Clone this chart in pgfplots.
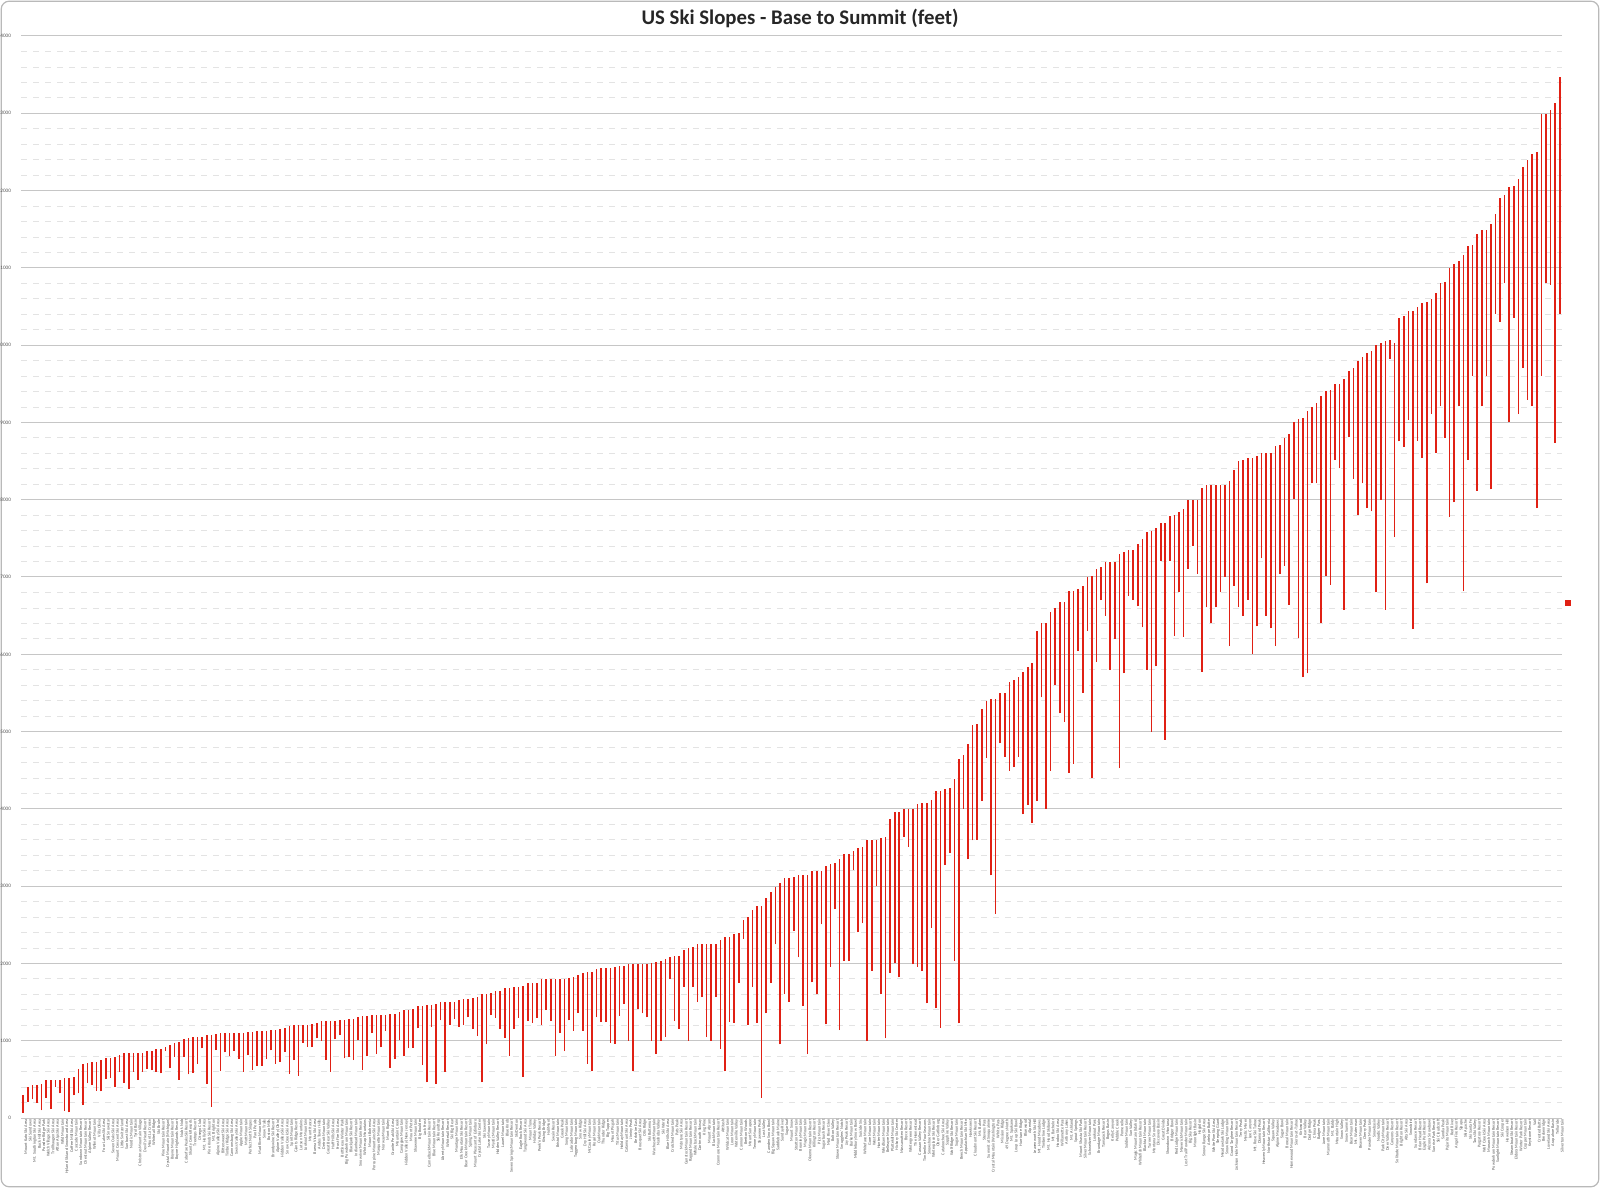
\documentclass[border=0pt]{standalone}
\usepackage{fontspec}
\setmainfont{Carlito}
\usepackage{pgfplots}
\usepackage{pgfplotstable}
\pgfplotsset{compat=1.18}
\definecolor{barred}{RGB}{224,32,20}
\definecolor{labgray}{RGB}{89,89,89}
\pgfplotstableread{
i base top
1 69 303
2 208 407
3 242 433
4 199 433
5 100 442
6 260 489
7 121 494
8 398 494
9 320 489
10 95 520
11 74 520
12 294 533
13 320 628
14 165 693
15 450 714
16 424 719
17 351 719
18 346 745
19 502 779
20 524 779
21 398 792
22 598 814
23 450 844
24 381 844
25 598 844
26 498 844
27 598 844
28 632 866
29 619 866
30 598 892
31 576 892
32 866 922
33 641 944
34 792 966
35 494 987
36 792 1022
37 563 1031
38 584 1052
39 701 1052
40 900 1052
41 446 1069
42 143 1069
43 879 1082
44 606 1100
45 849 1100
46 797 1100
47 870 1100
48 762 1100
49 598 1104
50 814 1108
51 620 1117
52 676 1125
53 676 1125
54 762 1125
55 875 1134
56 702 1138
57 728 1147
58 857 1160
59 572 1186
60 749 1199
61 546 1199
62 974 1199
63 922 1199
64 918 1220
65 1030 1225
66 1000 1251
67 749 1251
68 598 1251
69 1017 1259
70 1073 1268
71 771 1268
72 788 1276
73 749 1285
74 1009 1302
75 620 1315
76 797 1315
77 1099 1328
78 831 1328
79 914 1333
80 1125 1333
81 650 1350
82 762 1350
83 1004 1372
84 797 1393
85 901 1397
86 909 1406
87 1160 1454
88 685 1454
89 460 1467
90 1181 1467
91 438 1471
92 1264 1497
93 598 1497
94 1203 1497
95 1281 1501
96 1181 1523
97 1203 1536
98 1302 1540
99 1151 1553
100 1060 1562
101 460 1600
102 952 1600
103 1332 1612
104 1297 1642
105 1151 1642
106 1039 1685
107 802 1685
108 1151 1698
109 1297 1698
110 535 1711
111 1254 1741
112 1233 1741
113 1297 1741
114 1203 1793
115 1397 1793
116 1254 1793
117 802 1793
118 1103 1793
119 866 1793
120 1263 1806
121 1129 1819
122 1362 1849
123 1129 1871
124 703 1892
125 603 1892
126 1302 1931
127 1241 1935
128 1241 1935
129 974 1935
130 961 1953
131 1323 1961
132 1474 1961
133 1000 1996
134 603 1996
135 1405 1996
136 1353 1996
137 1302 1996
138 1000 2000
139 828 2021
140 1000 2026
141 1047 2060
142 1797 2082
143 1254 2095
144 1151 2095
145 1698 2168
146 1000 2194
147 1698 2207
148 1500 2246
149 1565 2246
150 1047 2246
151 1000 2246
152 1565 2254
153 897 2297
154 603 2345
155 1246 2345
156 1233 2375
157 1750 2396
158 2315 2560
159 1203 2595
160 1698 2690
161 1233 2741
162 263 2746
163 1353 2849
164 1750 2918
165 2246 2991
166 953 3047
167 1599 3099
168 1504 3099
169 2418 3112
170 2078 3142
171 1448 3142
172 828 3142
173 1754 3198
174 1599 3198
175 2504 3198
176 1211 3263
177 1957 3284
178 2702 3302
179 1138 3345
180 2030 3422
181 2030 3422
182 3207 3452
183 2401 3495
184 2517 3508
185 996 3595
186 1905 3595
187 3004 3595
188 1599 3629
189 1030 3638
190 1879 3875
191 2000 3961
192 1819 3961
193 3638 3995
194 3508 3995
195 1987 3995
196 1957 4060
197 1901 4077
198 1483 4077
199 2461 4120
200 1418 4233
201 1168 4233
202 3271 4263
203 3431 4272
204 2034 4392
205 1224 4651
206 4000 4698
207 3345 4840
208 3591 5086
209 3603 5095
210 4099 5293
211 4659 5392
212 3138 5422
213 2642 5422
214 4849 5496
215 4677 5500
216 4496 5646
217 4539 5672
218 4668 5702
219 3927 5775
220 4056 5840
221 3815 5888
222 4099 6297
223 5444 6401
224 4000 6401
225 4496 6543
226 5603 6599
227 5237 6672
228 5121 6681
229 4465 6814
230 4582 6819
231 6047 6845
232 5500 6888
233 6306 7004
234 4401 7008
235 5905 7103
236 6702 7133
237 6500 7198
238 5802 7198
239 6198 7198
240 4526 7297
241 5754 7327
242 6758 7349
243 6707 7349
244 6620 7426
245 6349 7491
246 5802 7586
247 5000 7599
248 5845 7633
249 7211 7698
250 4896 7698
251 7211 7793
252 6241 7802
253 6802 7836
254 6229 7879
255 7104 8000
256 7405 8000
257 7039 8000
258 5776 8147
259 6608 8194
260 6401 8194
261 6608 8194
262 6802 8194
263 7004 8194
264 6104 8246
265 6888 8384
266 6608 8496
267 6500 8517
268 6707 8539
269 6004 8539
270 6362 8560
271 7241 8599
272 6500 8599
273 6336 8599
274 6104 8698
275 7039 8707
276 7147 8797
277 6642 8849
278 8009 9000
279 6207 9043
280 5703 9056
281 5754 9142
282 8211 9203
283 8211 9250
284 6405 9345
285 7017 9409
286 6901 9418
287 8513 9496
288 8405 9496
289 6578 9560
290 8806 9659
291 8267 9698
292 7806 9797
293 8211 9849
294 7892 9892
295 7849 9918
296 6802 10000
297 8000 10034
298 6573 10059
299 9823 10069
300 7517 10030
301 8754 10350
302 8685 10379
303 9035 10438
304 6325 10448
305 8764 10498
306 8542 10547
307 6916 10562
308 9108 10596
309 8606 10670
310 9207 10798
311 8803 10823
312 7778 10995
313 7966 11049
314 9207 11094
315 6818 11163
316 8517 11286
317 9601 11301
318 8113 11434
319 9207 11488
320 9601 11488
321 8133 11562
322 10404 11695
323 10301 11902
324 10798 11946
325 9010 12049
326 10355 12064
327 9108 12153
328 9709 12300
329 9291 12394
330 9217 12473
331 7892 12498
332 9601 12990
333 10798 12990
334 10783 13039
335 8739 13138
336 10404 13468
}\skidata

\begin{document}
\begin{tikzpicture}
\useasboundingbox (0pt,0pt) rectangle (800pt,594pt);
\draw[gray!55, line width=0.6pt, rounded corners=4pt] (0.6pt,0.6pt) rectangle (799.4pt,593.4pt);
\node[font=\fontsize{10.4}{12}\selectfont\bfseries, text=black!85] at (400pt,585pt) {US Ski Slopes - Base to Summit (feet)};
\begin{axis}[
  at={(10.5pt,35pt)}, anchor=south west,
  scale only axis, width=770.5pt, height=541pt,
  xmin=0.5, xmax=336.5, ymin=0, ymax=14000,
  ytick={0,1000,...,14000},
  scaled y ticks=false,
  minor y tick num=4,
  ymajorgrids, yminorgrids,
  major grid style={gray!45, line width=0.5pt},
  minor grid style={gray!22, dashed, line width=0.4pt},
  axis line style={draw=none},
  tick style={draw=none},
  /pgf/number format/1000 sep={},
  /pgf/number format/assume math mode=true,
  yticklabel style={font=\fontsize{2.6}{3}\selectfont, text=labgray, xshift=-1.5pt},
  xtick={1,...,336},
  xticklabel style={rotate=90, anchor=east, font=\fontsize{2.1}{2.5}\selectfont, text=labgray, inner sep=0.5pt, yshift=-1.2pt},
  xticklabels={Mount Kato Ski Area,Ski Sundown,Mt. Southington Ski Area,Buck Hill Ski Area,Powder Ridge Park,Welch Village Ski Area,Trollhaugen Ski Area,Afton Alps Ski Area,Wild Mountain,Hyland Ski and Snowboard Area,
Coffee Mill Ski Area,Cascade Mountain,Sundown Mountain Resort,Chestnut Mountain Resort,Alpine Valley Resort,Wilmot Mountain,Villa Olivia,Four Lakes Ski Area,Ski Snowstar,Seven Oaks Ski Area,
Mount Crescent Ski Area,Little Switzerland,Sunburst Ski Area,Nordic Mountain,Tyrol Basin,Christmas Mountain Village,Devil's Head Resort,Mount La Crosse,Whitetail Ridge,Ski Brule,
Pine Mountain Resort,Crystal Mountain (Michigan),Boyne Mountain Resort,Boyne Highlands Resort,Nub's Nob,Caberfae Peaks Ski Resort,Shanty Creek Resorts,Treetops Resort,Otsego Club,Mt. Holly Ski Area,
Pine Knob Ski Resort,Mt. Brighton,Alpine Valley Ski Area,Bittersweet Ski Area,Timber Ridge Ski Area,Cannonsburg Ski Area,Swiss Valley Ski Area,Apple Mountain,Mott Mountain,Perfect North Slopes,
Paoli Peaks,Mad River Mountain,Snow Trails,Boston Mills,Brandywine Ski Resort,Alpine Valley (Ohio),Hidden Valley Ski Area,Snow Creek Ski Area,Spirit Mountain,Giants Ridge Resort,
Lutsen Mountains,Lookout Mountain,Mount Itasca,Buena Vista Ski Area,Andes Tower Hills,Detroit Mountain,Great Bear Ski Valley,Huff Hills Ski Area,Frost Fire Ski Area,Bottineau Winter Park,
Big Powderhorn Mountain,Blackjack Ski Resort,Indianhead Mountain,Snowriver Mountain Resort,Whitecap Mountains,Mount Bohemia,Porcupine Mountains Ski Area,Marquette Mountain,Norway Mountain,Mont Ripley,
Granite Peak Ski Area,Mountain Creek,Campgaw Mountain,Hidden Valley (New Jersey),Mount Peter,Shawnee Mountain,Big Boulder,Jack Frost,Camelback Mountain Resort,Blue Mountain Resort,
Ski Roundtop,Liberty Mountain Resort,Whitetail Resort,Ski Big Bear,Montage Mountain,Elk Mountain Ski Resort,Bear Creek Mountain Resort,Spring Mountain,Mount Pleasant of Edinboro,Crystal Lake Ski Center,
Ski Sawmill,Tussey Mountain,Mystic Mountain,Hidden Valley Resort,Laurel Mountain,Blue Knob,Seven Springs Mountain Resort,Ski Denton,Eagle Rock Resort,Tanglwood Ski Area,
Mount Tone,Holiday Valley,Peek'n Peak Resort,Kissing Bridge,HoliMont,Swain Resort,Bristol Mountain,Greek Peak,Song Mountain,Labrador Mountain,
Toggenburg Mountain,Snow Ridge,Dry Hill Ski Area,McCauley Mountain,Royal Mountain,Oak Mountain,Thunder Ridge,Big Tupper,Mount Pisgah,Titus Mountain,
Holiday Mountain,Catamount Ski Area,Jiminy Peak,Berkshire East,Bousquet Ski Area,Otis Ridge,Ski Butternut,Wachusett Mountain,Nashoba Valley,Ski Ward,
Blue Hills Ski Area,Crotched Mountain,Pats Peak,McIntyre Ski Area,Gunstock Mountain Resort,Ragged Mountain Resort,Whaleback Mountain,Dartmouth Skiway,King Pine,Mount Abram,
Black Mountain,Cranmore Mountain Resort,Attitash,Wildcat Mountain,Loon Mountain,Waterville Valley,Cannon Mountain,Bretton Woods,Mount Sunapee,Tenney Mountain,
Shawnee Peak,Lost Valley,Camden Snow Bowl,Big Squaw Mountain,Saddleback Maine,Sunday River,Sugarloaf,Mount Snow,Stratton Mountain,Bromley Mountain,
Magic Mountain,Okemo Mountain Resort,Killington Resort,Pico Mountain,Sugarbush Resort,Mad River Glen,Bolton Valley,Stowe Mountain Resort,Smugglers' Notch,Jay Peak Resort,
Burke Mountain,Middlebury Snow Bowl,Suicide Six,Whiteface Mountain,Gore Mountain,West Mountain,Hunter Mountain,Windham Mountain,Belleayre Mountain,Plattekill Mountain,
Hickory Ski Center,Massanutten Resort,Bryce Resort,Wintergreen Resort,The Homestead,Canaan Valley Resort,Timberline Four Seasons,Snowshoe Mountain,Winterplace Ski Resort,Ober Gatlinburg,
Cataloochee Ski Area,Sapphire Valley,Wolf Ridge Ski Resort,Sugar Mountain,Beech Mountain Resort,Appalachian Ski Mtn,Hawksnest,Cloudmont Ski Resort,Mt. Baker,Stevens Pass,
Summit at Snoqualmie,Crystal Mountain (Washington),White Pass,Mission Ridge,49 Degrees North,Mt. Spokane,Loup Loup Ski Bowl,Hurricane Ridge,Bluewood,Alpental,
Leavenworth Ski Hill,Mt. Hood Meadows,Timberline Lodge,Mt. Hood Skibowl,Mt. Bachelor,Hoodoo Ski Area,Willamette Pass,Anthony Lakes,Mt. Ashland,Spout Springs,
Mount Shasta Ski Park,Silver Mountain Resort,Schweitzer Mountain,Lookout Pass,Brundage Mountain,Tamarack Resort,Bogus Basin,Kelly Canyon,Pebble Creek,Pomerelle,
Soldier Mountain,Sun Valley,Magic Mountain (Idaho),Whitefish Mountain Resort,Blacktail Mountain,Turner Mountain,Montana Snowbowl,Discovery Basin,Great Divide,Showdown Montana,
Bridger Bowl,Red Lodge Mountain,Maverick Mountain,Lost Trail Powder Mountain,Big Sky Resort,Moonlight Basin,Hogadon,Snowy Range Ski Area,Antelope Butte,White Pine Ski Area,
Sleeping Giant,Meadowlark Ski Lodge,Snow King Mountain,Grand Targhee Resort,Jackson Hole Mountain Resort,Terry Peak,Mystic Miner,Lee Canyon,Mt. Rose Ski Tahoe,Diamond Peak,
Heavenly Mountain Resort,Northstar California,Squaw Valley,Alpine Meadows,Sugar Bowl,Boreal Mountain,Homewood Mountain Resort,Sierra-at-Tahoe,Kirkwood,Bear Valley,
Dodge Ridge,China Peak,Badger Pass,June Mountain,Mammoth Mountain,Mt. Baldy,Mountain High,Snow Valley,Snow Summit,Bear Mountain,
Mt. Waterman,Beaver Mountain,Cherry Peak,Powder Mountain,Snowbasin,Nordic Valley,Park City Mountain,Deer Valley Resort,Canyons Resort,Solitude Mountain Resort,
Brighton Resort,Alta Ski Area,Snowbird,Sundance Resort,Brian Head Resort,Eagle Point Resort,Arizona Snowbowl,Sunrise Park Resort,Ski Cloudcroft,Sandia Peak,
Pajarito Mountain,Red River,Angel Fire Resort,Sipapu,Ski Apache,Ski Santa Fe,Taos Ski Valley,Purgatory Resort,Wolf Creek Ski Area,Monarch Mountain,
Powderhorn Mountain Resort,Sunlight Mountain Resort,Ski Cooper,Howelsen Hill,Steamboat Ski Resort,Eldora Mountain Resort,Winter Park Resort,Copper Mountain,Keystone Resort,Vail,
Crested Butte,Breckenridge,Loveland Ski Area,Arapahoe Basin,Telluride,Silverton Mountain},
  legend style={at={(axis description cs:1.0065,0.476)}, anchor=center, draw=none, fill=none, inner sep=0pt, outer sep=0pt, font=\fontsize{2}{2.4}\selectfont},
]
\addplot[barred, line width=0.8pt, no markers,
  quiver={u=0, v=\thisrow{top}-\thisrow{base}},
  legend image code/.code={\fill[barred] (-1.2pt,-1.2pt) rectangle (1.2pt,1.2pt);}]
  table[x=i, y=base] {\skidata};
\addlegendentry{}
\end{axis}
\end{tikzpicture}
\end{document}
